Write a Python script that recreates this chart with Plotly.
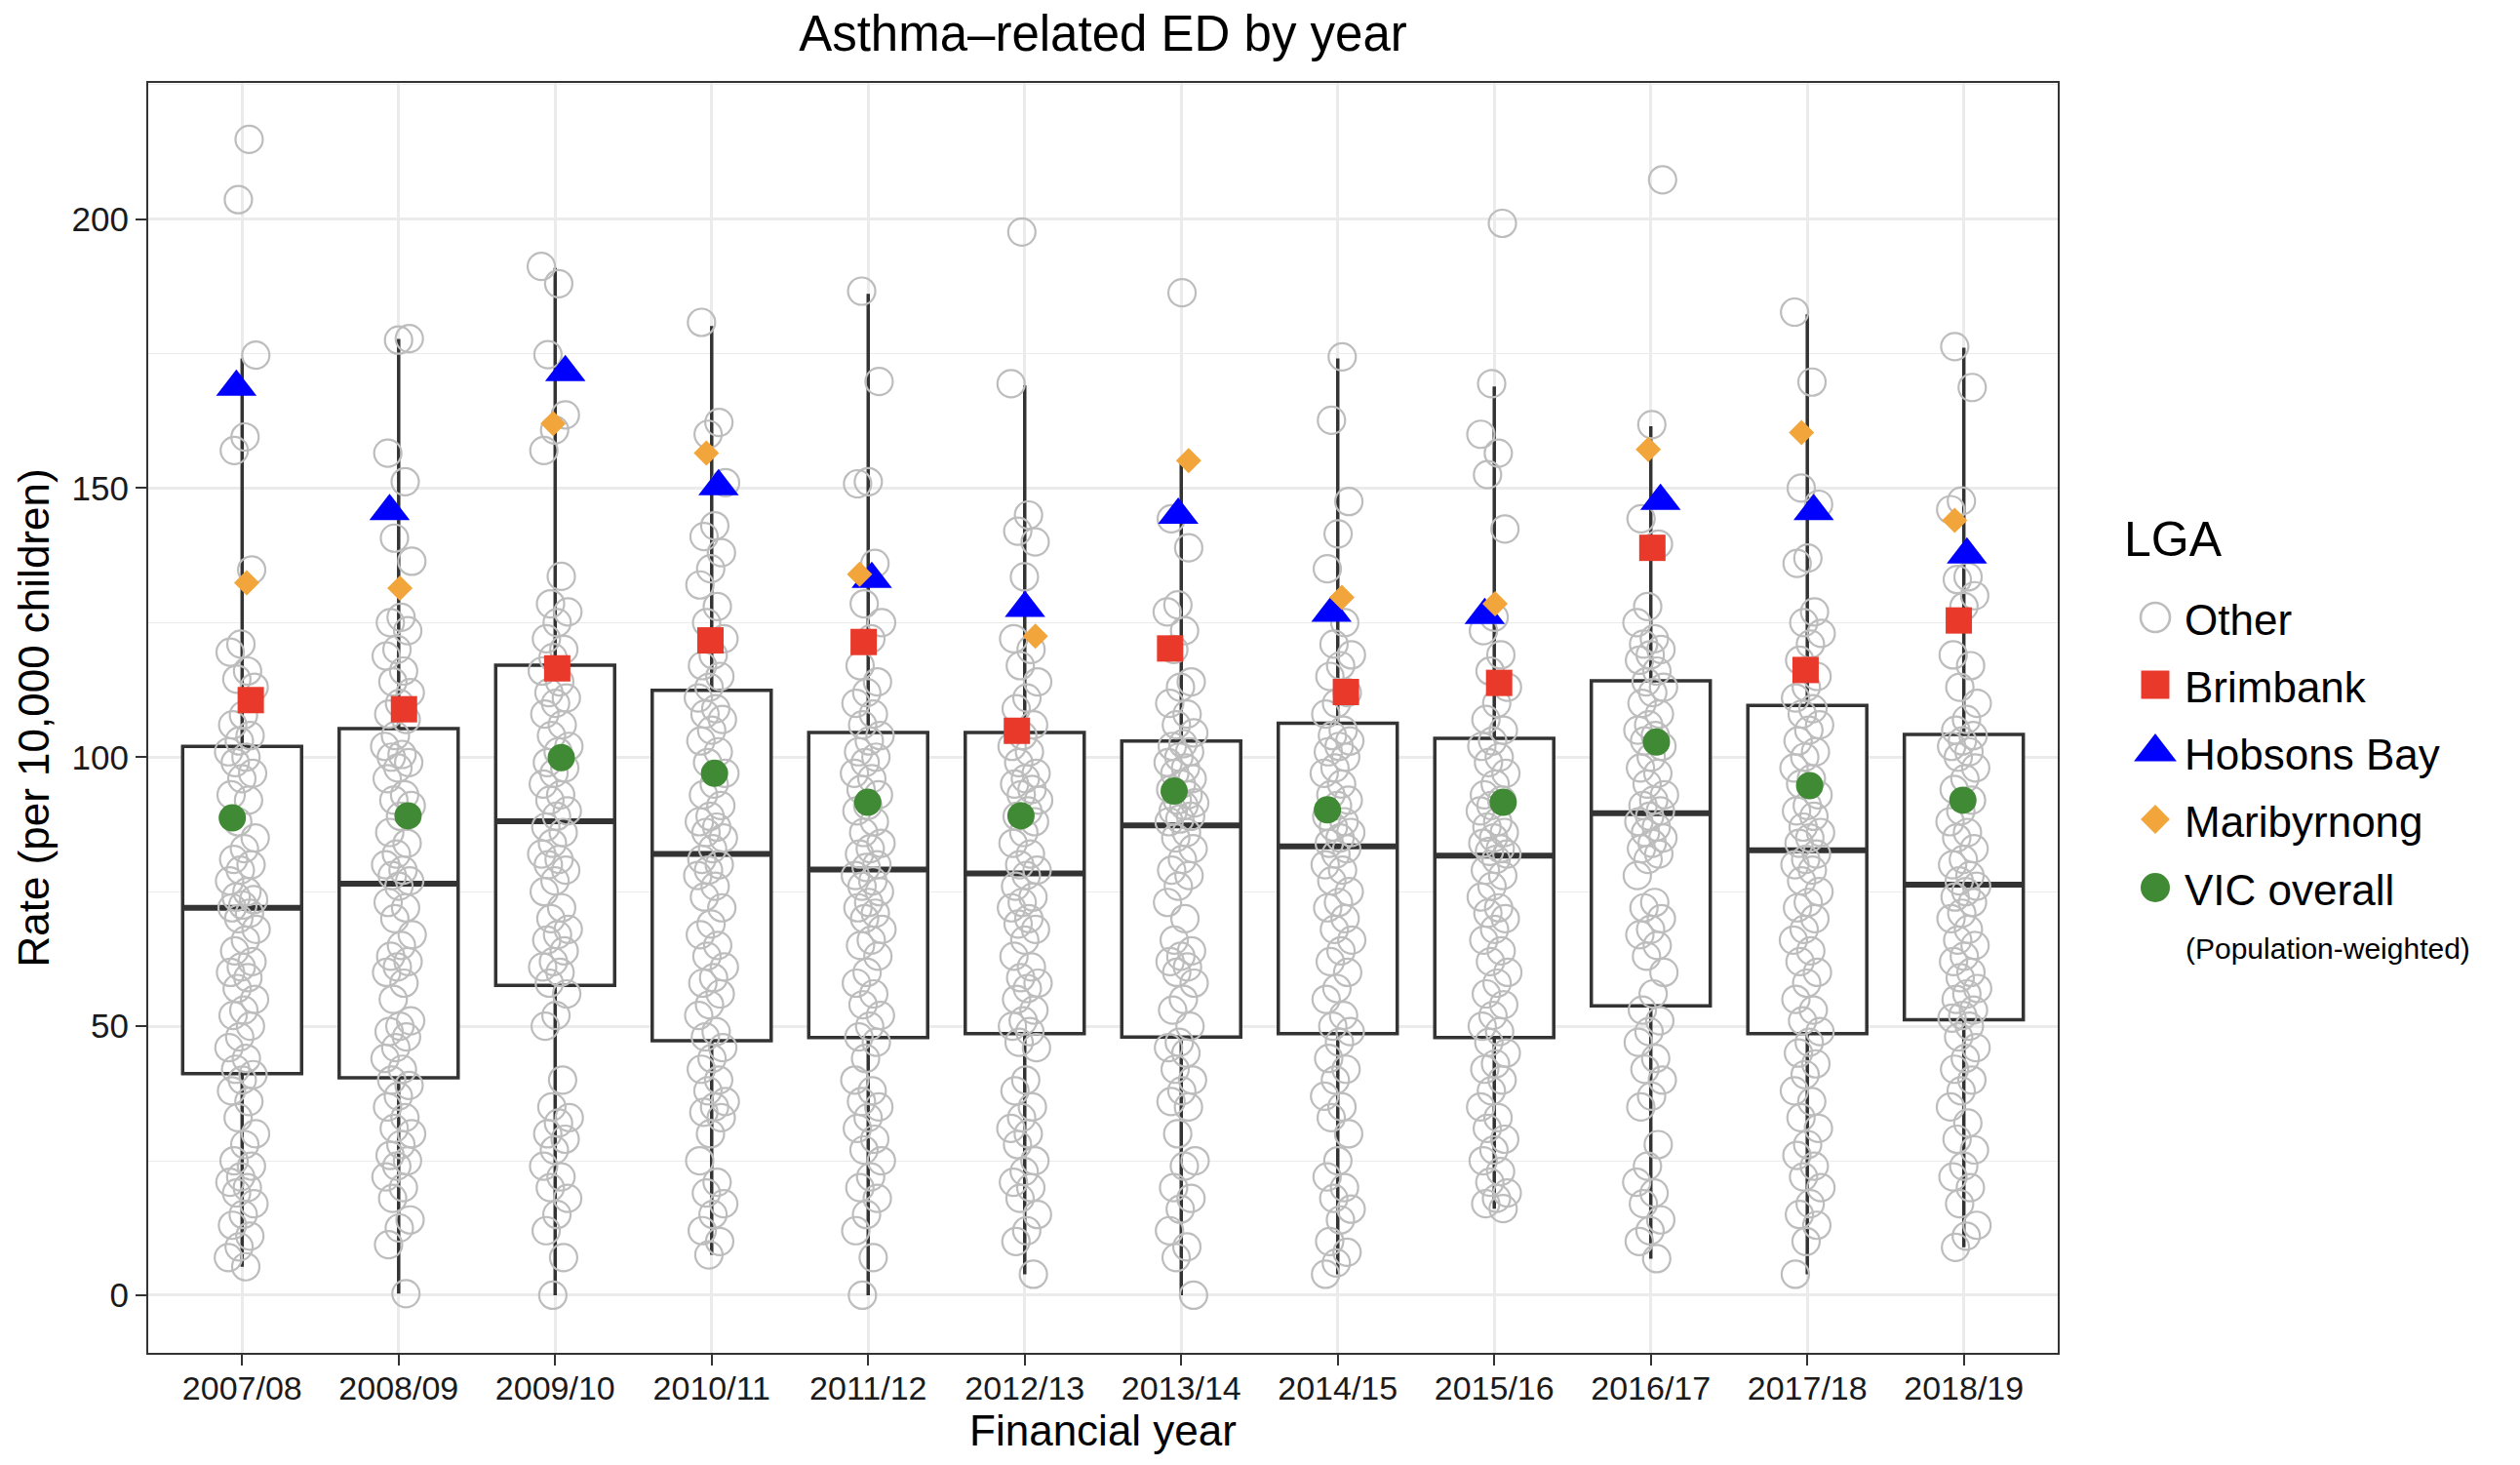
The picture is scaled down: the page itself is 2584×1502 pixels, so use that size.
import plotly.graph_objects as go

years = ["2007/08", "2008/09", "2009/10", "2010/11", "2011/12", "2012/13",
         "2013/14", "2014/15", "2015/16", "2016/17", "2017/18", "2018/19"]

# "Other" LGAs, rates per 10,000 children
other_0708 = [214.8, 203.6, 174.7, 159.5, 157, 134.8, 121, 119.5, 116, 114.5, 113, 107.8, 106, 104, 103,
              101, 100, 99, 97, 96, 93, 92, 88, 85, 83, 81, 80, 79, 77, 75, 74, 73.5, 72.5, 72,
              71, 70, 68, 66, 64, 62, 61, 60, 59, 57, 55, 53, 52, 50, 48, 46, 44, 42, 41,
              40, 38, 36, 33, 30, 28, 25, 24, 22, 21, 20, 19, 17, 15, 13, 11, 9, 7, 5.3]
other_0809 = [177.8, 177.5, 156.5, 151.2, 140.7, 136.4, 126, 125, 123.5, 120, 118.8, 116, 114, 112, 110, 108, 107,
              104, 102, 100.5, 100, 99, 98, 96, 93, 92, 91, 89, 86, 84, 82, 80, 79, 78, 77,
              76, 73, 72, 70, 67, 65, 63, 62, 61, 60, 58, 55, 51, 50, 49, 48, 46, 44, 42,
              40, 39, 37, 35, 33, 31, 30, 28, 26, 25, 24, 22, 20, 18, 14, 12.5, 9.4, 0.3]
other_0910 = [191.2, 188, 174.8, 163.6, 160.8, 157, 133.6, 128.5, 127, 125, 122, 120, 118.5,
              116, 114, 112, 111, 110, 108, 106, 104, 102, 101, 99, 98, 97, 95, 93, 92, 90, 89,
              87, 86, 84, 82, 81, 80, 79, 77, 75, 72, 70, 68, 67, 66, 64, 62, 61, 60, 58,
              56, 52, 50, 40, 35, 33, 32, 30, 29, 27, 24, 22, 20, 18, 15, 12, 7, 0]
other_1011 = [180.8, 162.2, 160, 151, 143, 141, 138, 135, 132, 128, 125, 122, 119, 117, 115, 113,
              111, 109, 108, 107, 105, 103, 101, 99, 97, 95, 93, 91, 89, 88, 87, 86, 85, 83,
              81, 80, 79, 78, 76, 74, 72, 69, 67, 65, 63, 61, 59, 58, 56, 54, 52, 49, 48,
              46, 44, 42, 40, 38, 36, 35, 34, 33, 30, 25, 21, 19, 17, 15, 12, 10, 7.5]
other_1112 = [186.6, 169.8, 151.2, 150.8, 136, 128.5, 125, 122, 117, 114, 112, 110, 108, 106,
              104, 103, 101, 100, 99, 97, 96, 94, 93, 91, 90, 88, 86, 84, 83, 82, 80, 79.5,
              78, 77, 76, 75, 73, 72, 71, 70, 68, 66, 65, 63, 60, 58, 56, 54, 52, 50, 48,
              47, 44, 40, 38, 36, 35, 33, 31, 29, 27, 25, 22, 20, 18, 15, 12, 7, 0]
other_1213 = [197.6, 169.4, 145, 142, 140, 133.5, 122, 120, 117, 114, 111, 109, 106,
              104, 102, 101, 99, 97, 96, 95, 94, 93, 92, 90, 89, 88, 86, 84, 82, 80, 79,
              78, 76, 74, 73, 72, 70, 69, 68, 66, 63, 61, 59, 58, 57, 55, 53, 51, 50, 49,
              47, 46, 40, 38, 35, 33, 31, 30, 28, 25, 23, 21, 20, 18, 15, 12, 10, 3.9]
other_1314 = [186.3, 144.3, 138.9, 128.3, 127, 123.5, 120, 114, 113, 110, 108, 106, 104.5,
              102.5, 102, 101, 100, 99, 98, 97, 96, 95, 94, 93, 92, 91.5, 91, 90, 89, 88.5, 88,
              86, 85, 83, 81, 79, 78, 76, 73, 70, 66, 64, 63, 62, 61, 60, 58, 55, 53, 50,
              47, 46, 45, 42, 40, 38, 36, 35, 30, 25, 24, 20, 18, 16, 12, 9, 7, 0]
other_1415 = [174.4, 162.6, 147.5, 141.5, 135, 125, 121, 119, 117, 115, 112, 110, 108,
              105, 104, 103, 102, 101, 100, 98, 97, 95, 93, 92, 91, 89, 88, 87, 86, 85, 84,
              83, 82, 80, 79, 77, 75, 73, 72, 70, 68, 66, 64, 62, 60, 57, 55, 52, 50, 49,
              47, 44, 42, 40, 37, 35, 33, 30, 25, 22, 20, 18, 16, 14, 10, 8, 6, 3.9]
other_1516 = [199.2, 169.4, 160, 156.5, 152.5, 142.4, 126, 123.5, 119, 116, 113, 110, 107, 105,
              103, 102, 100, 99, 97, 95, 93, 92, 91, 90, 88, 87, 86, 85, 84, 83, 82.5, 82,
              81, 79, 78, 76, 74, 72, 71, 70, 68, 66, 64, 62, 60, 58, 56, 54, 52, 50, 49,
              47, 45, 43, 42, 40, 38, 35, 33, 31, 29, 27, 25, 23, 21, 19, 18, 17, 16.1]
other_1617 = [207.3, 161.8, 144.3, 139.6, 128, 125, 122, 121, 120, 119, 118, 116,
              114, 113, 112, 110, 108, 106, 105, 104, 103, 102, 100, 98, 97, 95, 93, 92, 91, 90,
              89, 88, 87, 86, 85, 84, 83, 82, 81, 78, 73, 72, 70, 68, 67, 65, 63, 60, 56,
              53, 51, 49, 47, 44, 42, 40, 37, 35, 28, 24, 21, 19, 17, 14, 12, 10, 6.8]
other_1718 = [182.7, 169.7, 150, 147, 137, 136, 127, 125, 123, 121, 118, 115, 113, 111,
              109, 108, 106, 105, 103, 101, 100, 98, 96, 95, 93, 91, 90, 89, 87, 86, 85, 84,
              82, 81, 80, 79, 77, 75, 73, 72, 70, 68, 66, 64, 62, 60, 58, 55, 53, 51, 49,
              47, 45, 43, 41, 38, 36, 33, 31, 28, 26, 24, 22, 20, 17, 15, 13, 10, 3.9]
other_1819 = [176.3, 168.7, 147.6, 146, 133.5, 133, 130, 128, 119, 117, 113, 110, 107, 105,
              104, 103, 102, 101, 100, 98, 96, 94, 92, 90, 88, 86, 85, 83, 81, 80, 78, 77,
              76, 75, 74, 73, 71, 70, 68, 66, 65, 63, 62, 60, 59, 57, 56, 55, 53, 52, 51.5,
              50, 48, 46, 44, 42, 40, 38, 35, 32, 29, 27, 24, 22, 20, 17, 13, 11, 8.9]

other_rates = [other_0708, other_0809, other_0910, other_1011, other_1112, other_1213,
               other_1314, other_1415, other_1516, other_1617, other_1718, other_1819]

# Box-plot statistics (all LGAs)
box_lower = [5.3, 0.3, 0, 7.5, 0, 3.9, 0, 3.9, 16.1, 6.8, 3.9, 8.9]
box_q1 = [41.2, 40.4, 57.6, 47.3, 47.9, 48.6, 48.0, 48.6, 47.9, 53.8, 48.6, 51.2]
box_median = [72.0, 76.5, 88.1, 82.0, 79.1, 78.4, 87.3, 83.4, 81.7, 89.6, 82.7, 76.3]
box_q3 = [102.0, 105.3, 117.1, 112.4, 104.6, 104.6, 103.0, 106.3, 103.5, 114.2, 109.6, 104.2]
box_upper = [174.1, 177.7, 190.9, 180.1, 186.1, 169.1, 155.1, 174.1, 168.9, 161.5, 182.3, 176.1]

brimbank = [110.6, 108.9, 116.5, 121.7, 121.4, 104.9, 120.2, 112.1, 113.8, 138.9, 116.2, 125.4]
hobsons_bay = [168.8, 145.7, 171.5, 150.3, 133.1, 127.7, 145.0, 126.8, 126.4, 147.6, 145.7, 137.6]
maribyrnong = [132.4, 131.4, 162.0, 156.5, 134.0, 122.5, 155.1, 129.7, 128.5, 157.2, 160.3, 144.0]
vic_overall = [88.7, 89.1, 99.9, 97.0, 91.6, 89.1, 93.7, 90.2, 91.6, 102.8, 94.7, 92.0]

legend_labels = ["Other", "Brimbank", "Hobsons Bay", "Maribyrnong", "VIC overall"]

# ---------------- styling ----------------
FONT = "Liberation Sans, Arial, Helvetica, sans-serif"
C_OTHER = "#BDBDBD"
C_BRIM = "#E8392B"
C_HOB = "#0000FF"
C_MAR = "#F2A53A"
C_VIC = "#418A35"
C_BOX = "#333333"
GRID = "#EBEBEB"
JIT = 0.09
BOXW = 0.76

W, H = 2584, 1502
ML, MR, MT, MB = 152, 0, 85, 115
PLOT_RIGHT = 2110
paper_w = W - ML - MR
dom_main = (PLOT_RIGHT - ML) / paper_w


def jitter(k, phase):
    return (((k + 1) * 0.6180339887 + phase) % 1.0) * 2.0 - 1.0


xpos = list(range(1, len(years) + 1))

fig = go.Figure()

# Boxes
fig.add_trace(go.Box(
    x=xpos, q1=box_q1, median=box_median, q3=box_q3,
    lowerfence=box_lower, upperfence=box_upper,
    boxpoints=False, width=BOXW, whiskerwidth=0,
    fillcolor="white", line=dict(color=C_BOX, width=3.5),
    showlegend=False, hoverinfo="skip"))

# thicker median bars
mx, my = [], []
for i, m in zip(xpos, box_median):
    mx += [i - BOXW / 2, i + BOXW / 2, None]
    my += [m, m, None]
fig.add_trace(go.Scatter(x=mx, y=my, mode="lines",
                         line=dict(color=C_BOX, width=6),
                         showlegend=False, hoverinfo="skip"))

# Other points
ox, oy = [], []
for i, vals in zip(xpos, other_rates):
    for k, v in enumerate(vals):
        ox.append(i + JIT * jitter(k, 0.13 * i))
        oy.append(v)
fig.add_trace(go.Scatter(x=ox, y=oy, mode="markers", name="Other",
                         marker=dict(symbol="circle-open", size=28, color=C_OTHER, opacity=1,
                                     line=dict(width=2.2, color=C_OTHER)),
                         showlegend=False))


def hx(phase):
    return [i + JIT * 0.8 * jitter(i * 3, phase) for i in xpos]


fig.add_trace(go.Scatter(x=hx(0.41), y=brimbank, mode="markers", name="Brimbank",
                         marker=dict(symbol="square", size=27, color=C_BRIM, opacity=1,
                                     line=dict(width=0)),
                         showlegend=False))
fig.add_trace(go.Scatter(x=hx(0.77), y=hobsons_bay, mode="markers", name="Hobsons Bay",
                         marker=dict(symbol="triangle-up", size=36, color=C_HOB, opacity=1,
                                     line=dict(width=0)),
                         showlegend=False))
fig.add_trace(go.Scatter(x=hx(0.23), y=maribyrnong, mode="markers", name="Maribyrnong",
                         marker=dict(symbol="diamond", size=20, color=C_MAR, opacity=1,
                                     line=dict(width=0)),
                         showlegend=False))
fig.add_trace(go.Scatter(x=hx(0.59), y=vic_overall, mode="markers", name="VIC overall",
                         marker=dict(symbol="circle", size=28, color=C_VIC, opacity=1,
                                     line=dict(width=0)),
                         showlegend=False))

# ---------------- legend (drawn on an overlay pixel axis) ----------------
leg_x = 2210
leg_y = [633, 702, 771, 840, 910]
fig.add_trace(go.Scatter(
    x=[leg_x] * 5, y=leg_y, mode="markers", xaxis="x2", yaxis="y2",
    marker=dict(symbol=["circle-open", "square", "triangle-up", "diamond", "circle"],
                size=[30, 29, 38, 23, 30], opacity=1,
                color=[C_OTHER, C_BRIM, C_HOB, C_MAR, C_VIC],
                line=dict(width=[2.6, 0, 0, 0, 0], color=[C_OTHER, C_BRIM, C_HOB, C_MAR, C_VIC])),
    showlegend=False, hoverinfo="skip"))

annotations = [dict(x=2176, y=553, xref="x2", yref="y2", text="LGA", showarrow=False,
                    xanchor="left", yanchor="middle", font=dict(family=FONT, size=50, color="black"))]
for lab, yy in zip(legend_labels, leg_y):
    annotations.append(dict(x=2238, y=yy + 2, xref="x2", yref="y2", text=lab, showarrow=False,
                            xanchor="left", yanchor="middle",
                            font=dict(family=FONT, size=44, color="black")))
annotations.append(dict(x=2239, y=972, xref="x2", yref="y2", text="(Population-weighted)",
                        showarrow=False, xanchor="left", yanchor="middle",
                        font=dict(family=FONT, size=30, color="black")))

fig.update_layout(
    width=W, height=H,
    margin=dict(l=ML, r=MR, t=MT, b=MB, pad=0),
    paper_bgcolor="white", plot_bgcolor="white",
    font=dict(family=FONT, color="black"),
    title=dict(text="Asthma–related ED by year", x=dom_main / 2, xref="paper", xanchor="center",
               y=1 - 34 / H, yref="container", yanchor="middle",
               font=dict(family=FONT, size=51, color="black")),
    xaxis=dict(domain=[0, dom_main], range=[0.4, 12.6], tickmode="array",
               tickvals=xpos, ticktext=years, showgrid=True, gridcolor=GRID, gridwidth=2.8,
               zeroline=False, showline=True, linecolor=C_BOX, linewidth=2, mirror=True,
               ticks="outside", ticklen=11, tickwidth=2, tickcolor=C_BOX,
               ticklabelstandoff=-6,
               tickfont=dict(family=FONT, size=34, color="#1a1a1a"),
               title=dict(text="Financial year", standoff=9,
                          font=dict(family=FONT, size=44, color="black"))),
    yaxis=dict(domain=[0, 1], range=[-10.7, 225.3], tickmode="linear", tick0=0, dtick=50,
               showgrid=True, gridcolor=GRID, gridwidth=2.8,
               minor=dict(dtick=25, tick0=0, showgrid=True, gridcolor=GRID, gridwidth=1.4, ticks=""),
               zeroline=False, showline=True, linecolor=C_BOX, linewidth=2, mirror=True,
               ticks="outside", ticklen=11, tickwidth=2, tickcolor=C_BOX,
               tickfont=dict(family=FONT, size=35, color="#1a1a1a"),
               title=dict(text="Rate (per 10,000 children)", standoff=9,
                          font=dict(family=FONT, size=44, color="black"))),
    xaxis2=dict(domain=[dom_main, 1], range=[PLOT_RIGHT, W], visible=False, anchor="y2",
                fixedrange=True),
    yaxis2=dict(domain=[0, 1], range=[H - MB, MT], visible=False, anchor="x2", fixedrange=True),
    annotations=annotations,
    showlegend=False,
)

fig.write_html("out.html")
